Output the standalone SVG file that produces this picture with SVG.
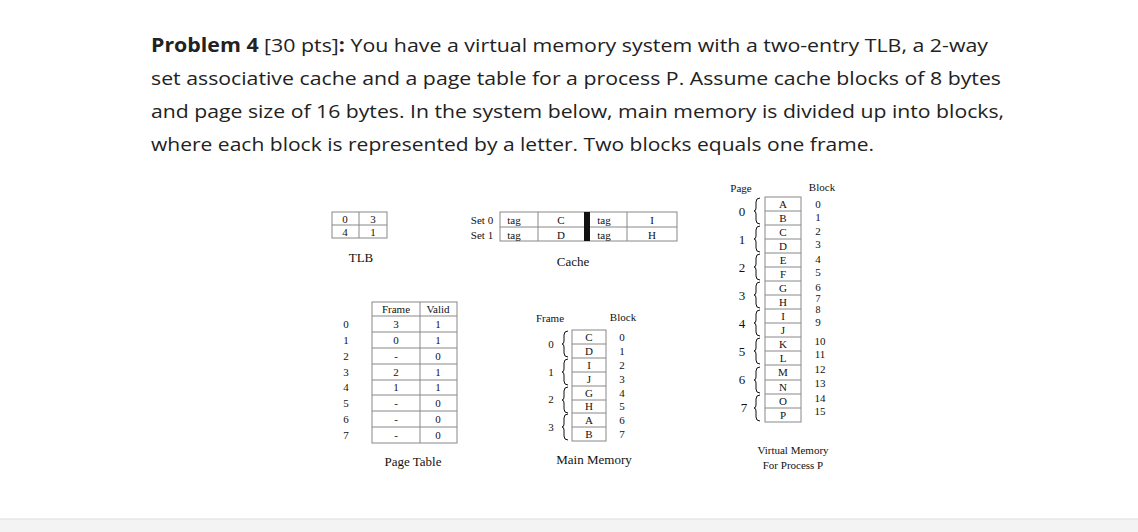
<svg xmlns="http://www.w3.org/2000/svg" width="1138" height="532" viewBox="0 0 1138 532">
<style>
.h{font-family:"Open Sans","Noto Sans",sans-serif;font-size:19px;fill:#222}
.t{font-family:"Liberation Serif",serif;font-size:11px;fill:#111;text-anchor:middle}
.l{font-family:"Liberation Serif",serif;font-size:13px;fill:#111;text-anchor:middle}
.b{fill:#fff;stroke:#888;stroke-width:1}
.g{stroke:#888;stroke-width:1;fill:none}
.br{fill:none;stroke:#111;stroke-width:1}
</style>
<defs>
<path id="brace" class="br" d="M6,-13 Q2,-13 2,-9 L2,-3 Q2,0 0,0 Q2,0 2,3 L2,9 Q2,13 6,13"/>
</defs>
<rect width="1138" height="532" fill="#fff"/>
<rect x="0" y="519" width="1138" height="13" fill="#f3f3f3"/>
<line x1="0" y1="519" x2="1138" y2="519" stroke="#ddd"/>
<g id="problem">
<text class="h" x="151" y="52" textLength="837" lengthAdjust="spacingAndGlyphs"><tspan font-weight="bold">Problem 4</tspan> [30 pts]<tspan font-weight="bold">:</tspan> You have a virtual memory system with a two-entry TLB, a 2-way</text>
<text class="h" x="151" y="85" textLength="850" lengthAdjust="spacingAndGlyphs">set associative cache and a page table for a process P. Assume cache blocks of 8 bytes</text>
<text class="h" x="151" y="118" textLength="853" lengthAdjust="spacingAndGlyphs">and page size of 16 bytes. In the system below, main memory is divided up into blocks,</text>
<text class="h" x="151" y="151" textLength="723" lengthAdjust="spacingAndGlyphs">where each block is represented by a letter. Two blocks equals one frame.</text>
</g>
<g id="tlb">
<rect class="b" x="332" y="212" width="55" height="26"/>
<path class="g" d="M332,225H387M359,212V238"/>
<text class="t" x="345" y="223">0</text><text class="t" x="373" y="223">3</text>
<text class="t" x="345" y="236">4</text><text class="t" x="373" y="236">1</text>
<text class="l" x="361" y="262">TLB</text>
</g>
<g id="cache">
<text class="t" x="482" y="224">Set 0</text><text class="t" x="482" y="239">Set 1</text>
<rect class="b" x="500" y="212" width="177" height="29"/>
<path class="g" d="M500,227H677M538,212V241M627,212V241"/>
<rect x="584" y="212" width="6" height="29" fill="#111"/>
<text class="t" x="514" y="224">tag</text><text class="t" x="561" y="224">C</text><text class="t" x="604" y="224">tag</text><text class="t" x="652" y="224">I</text>
<text class="t" x="514" y="239">tag</text><text class="t" x="561" y="239">D</text><text class="t" x="604" y="239">tag</text><text class="t" x="652" y="239">H</text>
<text class="l" x="573" y="266">Cache</text>
</g>
<g id="pagetable">
<rect class="b" x="372" y="302" width="85" height="141"/>
<path class="g" d="M420,302V443M372,316H457M372,332H457M372,348H457M372,364H457M372,380H457M372,395H457M372,411H457M372,427H457"/>
<text class="t" x="396" y="313">Frame</text><text class="t" x="438" y="313">Valid</text>
<g class="t">
<text x="346" y="328">0</text><text x="396" y="328">3</text><text x="438" y="328">1</text>
<text x="346" y="344">1</text><text x="396" y="344">0</text><text x="438" y="344">1</text>
<text x="346" y="360">2</text><text x="396" y="360">-</text><text x="438" y="360">0</text>
<text x="346" y="376">3</text><text x="396" y="376">2</text><text x="438" y="376">1</text>
<text x="346" y="391">4</text><text x="396" y="391">1</text><text x="438" y="391">1</text>
<text x="346" y="407">5</text><text x="396" y="407">-</text><text x="438" y="407">0</text>
<text x="346" y="423">6</text><text x="396" y="423">-</text><text x="438" y="423">0</text>
<text x="346" y="439">7</text><text x="396" y="439">-</text><text x="438" y="439">0</text>
</g>
<text class="l" x="413" y="466">Page Table</text>
</g>
<g id="mainmemory">
<text class="t" x="550" y="322">Frame</text><text class="t" x="623" y="321">Block</text>
<rect class="b" x="572" y="330" width="34" height="111"/>
<path class="g" d="M572,344H606M572,358H606M572,372H606M572,386H606M572,400H606M572,413H606M572,427H606"/>
<g class="t">
<text x="589" y="341">C</text><text x="589" y="355">D</text><text x="589" y="369">I</text><text x="589" y="383">J</text>
<text x="589" y="397">G</text><text x="589" y="410">H</text><text x="589" y="424">A</text><text x="589" y="438">B</text>
<text x="622" y="341">0</text><text x="622" y="355">1</text><text x="622" y="369">2</text><text x="622" y="383">3</text>
<text x="622" y="397">4</text><text x="622" y="410">5</text><text x="622" y="424">6</text><text x="622" y="438">7</text>
<text x="551" y="348">0</text><text x="551" y="376">1</text><text x="551" y="403">2</text><text x="551" y="431">3</text>
</g>
<use href="#brace" x="562" y="344"/><use href="#brace" x="562" y="372"/><use href="#brace" x="562" y="400"/><use href="#brace" x="562" y="427"/>
<text class="l" x="594" y="464">Main Memory</text>
</g>
<g id="virtualmemory">
<text class="t" x="741" y="192">Page</text><text class="t" x="822" y="191">Block</text>
<rect class="b" x="765" y="197" width="36" height="225"/>
<path class="g" d="M765,211H801M765,225H801M765,239H801M765,253H801M765,267H801M765,281H801M765,295H801M765,309H801M765,323H801M765,337H801M765,351H801M765,365H801M765,380H801M765,394H801M765,408H801"/>
<g class="t">
<text x="783" y="208">A</text><text x="783" y="222">B</text><text x="783" y="236">C</text><text x="783" y="250">D</text>
<text x="783" y="264">E</text><text x="783" y="278">F</text><text x="783" y="292">G</text><text x="783" y="306">H</text>
<text x="783" y="320">I</text><text x="783" y="334">J</text><text x="783" y="348">K</text><text x="783" y="362">L</text>
<text x="783" y="376">M</text><text x="783" y="391">N</text><text x="783" y="405">O</text><text x="783" y="419">P</text>
<text x="818" y="208">0</text><text x="818" y="221">1</text><text x="818" y="235">2</text><text x="818" y="248">3</text>
<text x="818" y="263">4</text><text x="818" y="276">5</text><text x="818" y="291">6</text><text x="818" y="302" font-size="10">7</text>
<text x="818" y="313" font-size="10">8</text><text x="818" y="326">9</text><text x="820" y="345">10</text><text x="820" y="358">11</text>
<text x="820" y="373">12</text><text x="820" y="387">13</text><text x="820" y="402">14</text><text x="820" y="415">15</text>
</g>
<g class="l">
<text x="742" y="216">0</text><text x="742" y="244">1</text><text x="742" y="272">2</text><text x="742" y="300">3</text>
<text x="742" y="328">4</text><text x="742" y="356">5</text><text x="742" y="384">6</text><text x="744" y="412">7</text>
</g>
<use href="#brace" x="754" y="211"/><use href="#brace" x="754" y="239"/><use href="#brace" x="754" y="267"/><use href="#brace" x="754" y="295"/>
<use href="#brace" x="754" y="323"/><use href="#brace" x="754" y="351"/><use href="#brace" x="754" y="380"/><use href="#brace" x="754" y="408"/>
<text class="t" x="793" y="454">Virtual Memory</text><text class="t" x="793" y="469">For Process P</text>
</g>
</svg>
